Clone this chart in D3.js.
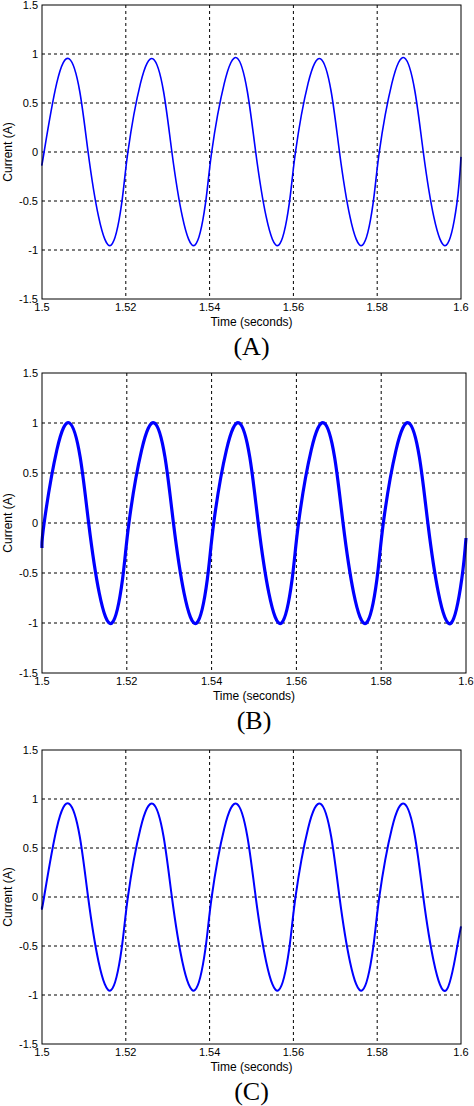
<!DOCTYPE html>
<html><head><meta charset="utf-8">
<script src="https://cdn.jsdelivr.net/npm/d3@7"></script>
<style>body{margin:0;background:#fff}</style>
</head><body><div id="chart"></div>
<script>
var times = [1.5000,
  1.5005,1.5035,1.5065,1.5090,1.5110,1.5135,1.5165,1.5190,
  1.5205,1.5235,1.5265,1.5290,1.5310,1.5335,1.5365,1.5390,
  1.5405,1.5435,1.5465,1.5490,1.5510,1.5535,1.5565,1.5590,
  1.5605,1.5635,1.5665,1.5690,1.5710,1.5735,1.5765,1.5790,
  1.5805,1.5835,1.5865,1.5890,1.5910,1.5935,1.5965,1.5990,
  1.6000];
var currentA = [-0.12,
  0,0.70,0.95,0.62,0,-0.66,-0.95,-0.53,
  0,0.70,0.95,0.62,0,-0.66,-0.95,-0.53,
  0,0.70,0.96,0.62,0,-0.66,-0.95,-0.53,
  0,0.70,0.95,0.62,0,-0.66,-0.95,-0.53,
  0,0.70,0.96,0.62,0,-0.66,-0.95,-0.53,
  -0.05];
var currentB = [-0.25,
  0,0.73,1.0,0.66,0,-0.70,-1.0,-0.56,
  0,0.73,1.0,0.66,0,-0.70,-1.0,-0.56,
  0,0.73,1.0,0.66,0,-0.70,-1.0,-0.56,
  0,0.73,1.0,0.66,0,-0.70,-1.0,-0.56,
  0,0.73,1.0,0.66,0,-0.70,-1.0,-0.56,
  -0.15];
var currentC = [-0.1,
  0,0.70,0.95,0.62,0,-0.66,-0.95,-0.53,
  0,0.70,0.95,0.62,0,-0.66,-0.95,-0.53,
  0,0.70,0.95,0.62,0,-0.66,-0.95,-0.53,
  0,0.70,0.95,0.62,0,-0.66,-0.95,-0.53,
  0,0.70,0.95,0.62,0,-0.66,-0.95,-0.53,
  -0.3];
var xTicks = [1.5,1.52,1.54,1.56,1.58,1.6];
var yTicks = [-1.5,-1,-0.5,0,0.5,1,1.5];
var panelLabels = ["(A)","(B)","(C)"];

var w = 474, h = 1106;
var panels = [
  { values: currentA, top: 5, bottom: 299, right: 461, stroke: 1.6 },
  { values: currentB, top: 373, bottom: 673, right: 466, stroke: 3.2 },
  { values: currentC, top: 750, bottom: 1044, right: 461, stroke: 2.0 }
];
var left = 42;

var svg = d3.select("#chart").append("svg")
  .attr("width", w).attr("height", h)
  .style("font-family", "Liberation Sans, Arial, sans-serif");

panels.forEach(function(p, k) {
  var x = d3.scaleLinear().domain([1.5, 1.6]).range([left, p.right]);
  var y = d3.scaleLinear().domain([-1.5, 1.5]).range([p.bottom, p.top]);
  var g = svg.append("g");

  // grid
  g.selectAll(".gx").data(xTicks.slice(1, -1)).enter().append("line")
    .attr("x1", function(d) { return x(d); }).attr("x2", function(d) { return x(d); })
    .attr("y1", p.top).attr("y2", p.bottom)
    .attr("stroke", "#000").attr("stroke-dasharray", "3,3");
  g.selectAll(".gy").data(yTicks.slice(1, -1)).enter().append("line")
    .attr("y1", function(d) { return y(d); }).attr("y2", function(d) { return y(d); })
    .attr("x1", left).attr("x2", p.right)
    .attr("stroke", "#000").attr("stroke-dasharray", "3,3");

  var line = d3.line()
    .x(function(d, i) { return x(times[i]); })
    .y(function(d) { return y(d); })
    .curve(d3.curveNatural);
  g.append("path").datum(p.values)
    .attr("d", line).attr("fill", "none")
    .attr("stroke", "#0000ff").attr("stroke-width", p.stroke);

  g.append("rect").attr("x", left).attr("y", p.top)
    .attr("width", p.right - left).attr("height", p.bottom - p.top)
    .attr("fill", "none").attr("stroke", "#000");

  g.selectAll(".xt").data(xTicks).enter().append("text")
    .attr("x", function(d) { return x(d); }).attr("y", p.bottom + 12)
    .attr("text-anchor", "middle").attr("font-size", 11)
    .text(function(d) { return d3.format("")(d); });
  g.selectAll(".yt").data(yTicks).enter().append("text")
    .attr("x", left - 4).attr("y", function(d) { return y(d) + 4; })
    .attr("text-anchor", "end").attr("font-size", 11)
    .text(function(d) { return d; });

  g.append("text").attr("x", (left + p.right) / 2).attr("y", p.bottom + 27)
    .attr("text-anchor", "middle").attr("font-size", 12).text("Time (seconds)");
  g.append("text")
    .attr("transform", "translate(12," + (p.top + p.bottom) / 2 + ") rotate(-90)")
    .attr("text-anchor", "middle").attr("font-size", 12).text("Current (A)");
  g.append("text").attr("x", (left + p.right) / 2).attr("y", p.bottom + 56)
    .attr("text-anchor", "middle").attr("font-size", 26)
    .attr("font-family", "Liberation Serif, Times New Roman, serif")
    .text(panelLabels[k]);
});
</script></body></html>
